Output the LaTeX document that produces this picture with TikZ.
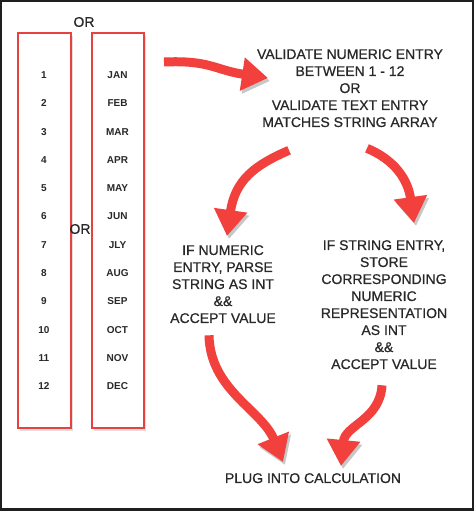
\documentclass[tikz,border=0pt]{standalone}
\usepackage{fontspec}
\setmainfont{Liberation Sans}
\newfontfamily\heavyfont[FakeBold=0.6]{Liberation Sans}
\usetikzlibrary{arrows.meta, positioning, shadows}
\definecolor{boxred}{RGB}{232,66,64}
\definecolor{arrowred}{RGB}{242,64,60}
\definecolor{inkgrey}{RGB}{40,40,40}

\begin{document}
\begin{tikzpicture}[
  x=1pt, y=-1pt,
  every node/.style={
    inner sep=0pt,
    text=inkgrey,
    align=center
  },
  listbox/.style={
    rectangle,
    draw=boxred, line width=2pt,
    fill=white,
    minimum height=395pt,
    drop shadow={opacity=0.25, shadow xshift=2pt, shadow yshift=-3pt}
  },
  listitem/.style={font=\fontsize{10}{12}\selectfont\bfseries},
  caption/.style={font=\heavyfont\fontsize{14}{17}\selectfont, anchor=north},
  >={Triangle[length=26pt,width=32pt]}, %fat arrow heads
  fatarrow/.style={draw=arrowred, line width=9pt,
    preaction={draw=black!22, transform canvas={shift={(2pt,-3pt)}}}}
  ]
% frame
\fill[black!88] (0,0) rectangle (474,511);
\fill[white] (2,2) rectangle (472,508);
\useasboundingbox (0,0) rectangle (474,511);

\begin{scope}[every node/.append style={listbox}]
  \node[minimum width=53pt] (nums) at (44.5,230.5) {};
  \node[minimum width=52pt] (months) at (118,230.5) {};
\end{scope}
\begin{scope}[every node/.append style={listitem}]
  \foreach \m [count=\i] in {JAN,FEB,MAR,APR,MAY,JUN,JLY,AUG,SEP,OCT,NOV,DEC} {
    \node (n\i) at (44,{75+28.3*(\i-1)}) {\i};
    \node (m\i) at (117.5,{75+28.3*(\i-1)}) {\m};
  }
\end{scope}
\node[font=\heavyfont\fontsize{14}{17}\selectfont] (ortop) at (84,22) {OR};
\node[font=\heavyfont\fontsize{14}{17}\selectfont] (ormid) at (80,229) {OR};

\begin{scope}[every node/.append style={caption}]
  \node (validate) at (350,49) {VALIDATE NUMERIC ENTRY\\BETWEEN 1 - 12\\OR\\VALIDATE TEXT ENTRY\\MATCHES STRING ARRAY};
  \node (numeric) at (223,245) {IF NUMERIC\\ENTRY, PARSE\\STRING AS INT\\\&\&\\ACCEPT VALUE};
  \node (strval) at (384,240) {IF STRING ENTRY,\\STORE\\CORRESPONDING\\NUMERIC\\REPRESENTATION\\AS INT\\\&\&\\ACCEPT VALUE};
  \node (plug) at (313,473) {PLUG INTO CALCULATION};
\end{scope}

\path[fatarrow,->] ([shift={(19,30)}]months.north east) .. controls (210,60) and (215,70) .. ([shift={(-82,29)}]validate.north);
\path[fatarrow,->] ([shift={(-61,23)}]validate.south) .. controls (255,165) and (235,180) .. ([shift={(4,-9)}]numeric.north);
\path[fatarrow,->] ([shift={(17,21)}]validate.south) .. controls (395,160) and (408,180) .. ([shift={(30,-17)}]strval.north);
\path[fatarrow,->] ([shift={(-14,12)}]numeric.south) .. controls (210,390) and (262,410) .. ([shift={(-30,-11)}]plug.north);
\path[fatarrow,->] ([shift={(-2,16)}]strval.south) .. controls (380,420) and (345,425) .. ([shift={(28,-7)}]plug.north);
\end{tikzpicture}
\end{document}
